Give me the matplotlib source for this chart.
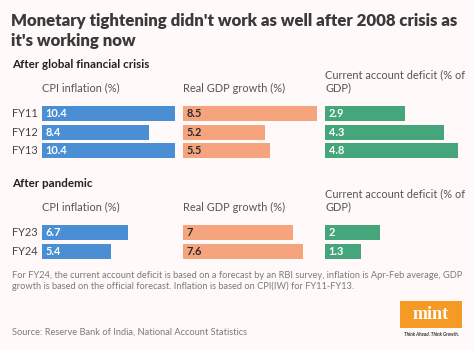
import matplotlib
matplotlib.use("Agg")
import matplotlib.pyplot as plt
from matplotlib.patches import Rectangle

plt.rcParams['font.family'] = ['Lato', 'DejaVu Sans']

# data
columns = ["CPI inflation (%)", "Real GDP growth (%)", "Current account deficit (% of\nGDP)"]
gfc_years = ["FY11", "FY12", "FY13"]
gfc_cpi = [10.4, 8.4, 10.4]
gfc_gdp = [8.5, 5.2, 5.5]
gfc_cad = [2.9, 4.3, 4.8]
pan_years = ["FY23", "FY24"]
pan_cpi = [6.7, 5.4]
pan_gdp = [7, 7.6]
pan_cad = [2, 1.3]

colors = ["#4a8fd3", "#f6a47e", "#45a67c"]
label_colors = ["white", "#2b2b2b", "white"]
bg = "#fffaf9"

W, H = 474, 350
fig = plt.figure(figsize=(W / 100, H / 100), dpi=100, facecolor=bg)
renderer = fig.canvas.get_renderer()


def fx(px):
    return px / W


def fy(py):
    return 1 - py / H


def fit(t, width_px):
    # scale font so the text's widest line is width_px wide
    w = t.get_window_extent(renderer).width
    t.set_fontsize(t.get_fontsize() * width_px / w)
    return t.get_fontsize()


# column placement in pixels (left, width)
col_left = [42, 183, 325]
col_width = [133, 134, 133]
col_max = [max(gfc_cpi + pan_cpi), max(gfc_gdp + pan_gdp), max(gfc_cad + pan_cad)]

probe = fig.text(0, 0, columns[2], fontsize=9)
head_size = fit(probe, 140)
probe.remove()
row_size = head_size
val_size = head_size


def section(years, series, top, pitch, header_y):
    n = len(years)
    for c in range(3):
        ax = fig.add_axes([fx(col_left[c]), fy(top + n * pitch),
                           fx(col_width[c]), n * pitch / H])
        ax.set_facecolor("none")
        vals = series[c]
        ax.barh(range(n), vals, height=15 / pitch, color=colors[c], align='center')
        ax.set_xlim(0, col_max[c])
        ax.set_ylim(n - 0.5, -0.5)
        ax.axis('off')
        for i, v in enumerate(vals):
            ax.annotate(f"{v:g}", xy=(0, i), xytext=(2.6, 0), textcoords='offset points',
                        va='center', ha='left', fontsize=val_size, fontweight='bold',
                        color=label_colors[c])
        hy = header_y if "\n" not in columns[c] else header_y - 7
        fig.text(fx(col_left[c]), fy(hy), columns[c], fontsize=head_size, color="#555555",
                 va='center', ha='left', linespacing=1.2)
    for i, yr in enumerate(years):
        fig.text(fx(12), fy(top + pitch * (i + 0.5)), yr, fontsize=row_size, color="#444444",
                 va='center', ha='left')


t1 = fig.text(fx(11), fy(21), "Monetary tightening didn't work as well after 2008 crisis as",
              fontsize=14, fontweight='heavy', color="#3a3a3a", va='center', ha='left')
title_size = fit(t1, 446)
fig.text(fx(11), fy(41), "it's working now",
         fontsize=title_size, fontweight='heavy', color="#3a3a3a", va='center', ha='left')

s1 = fig.text(fx(12), fy(65), "After global financial crisis", fontsize=9,
              fontweight='bold', color="#222222", va='center', ha='left')
sub_size = fit(s1, 136)
section(gfc_years, [gfc_cpi, gfc_gdp, gfc_cad], 104.25, 18.5, 88)

fig.text(fx(12), fy(183), "After pandemic", fontsize=sub_size,
         fontweight='bold', color="#222222", va='center', ha='left')
section(pan_years, [pan_cpi, pan_gdp, pan_cad], 223, 19, 207)

note = fig.text(fx(12), fy(281), "For FY24, the current account deficit is based on a forecast by an RBI survey, "
                "inflation is Apr-Feb average, GDP\ngrowth is based on the official forecast. "
                "Inflation is based on CPI(IW) for FY11-FY13.",
                fontsize=7, color="#7a7a7a", va='center', ha='left', linespacing=1.3)
note_size = fit(note, 450)
fig.text(fx(12), fy(332), "Source: Reserve Bank of India, National Account Statistics",
         fontsize=note_size, color="#7a7a7a", va='center', ha='left')

# mint logo
fig.patches.append(Rectangle((fx(400), fy(328)), fx(62), 27 / H, transform=fig.transFigure,
                             facecolor="#f59b25", edgecolor="none"))
fig.text(fx(431), fy(314.5), "mint", fontsize=13, fontweight='bold', color="white",
         family=['Liberation Serif', 'DejaVu Serif'], va='center', ha='center')
fig.text(fx(431), fy(334), "Think Ahead. Think Growth.", fontsize=3.3, fontweight='bold',
         style='italic', color="#333333", va='center', ha='center')

fig.savefig("out.png", dpi=100, facecolor=bg)
